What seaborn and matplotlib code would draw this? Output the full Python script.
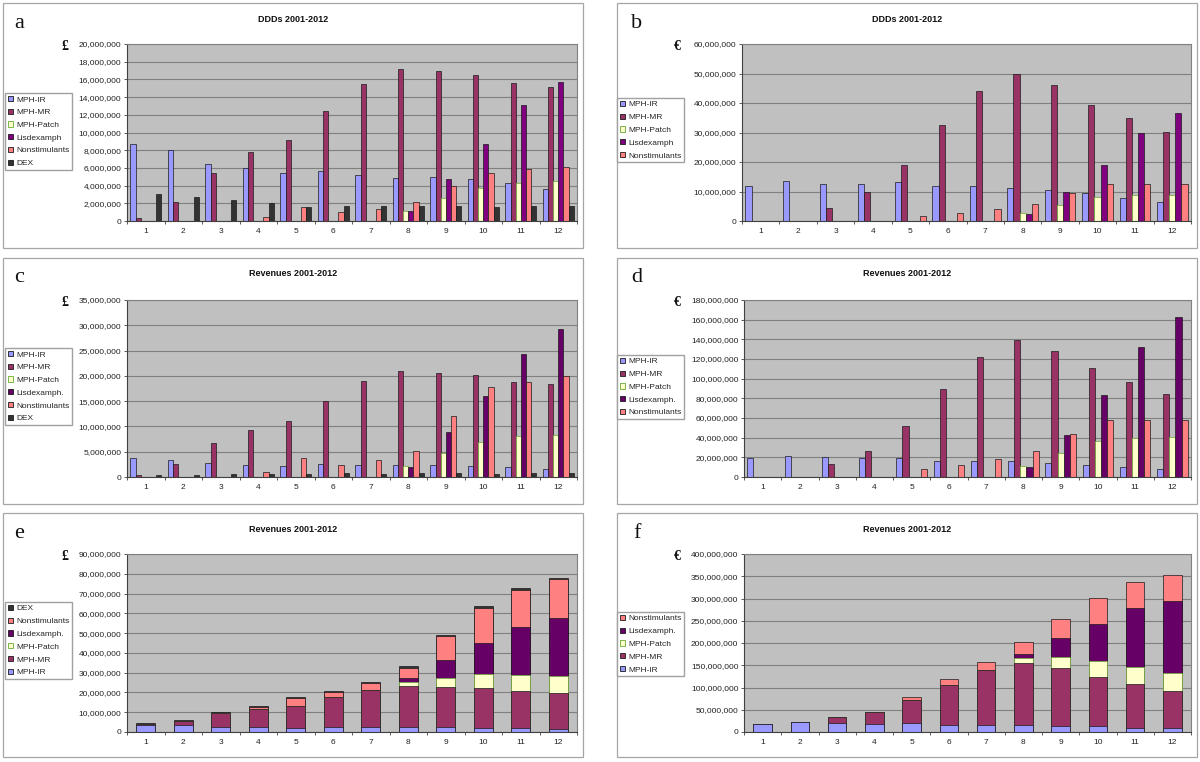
import numpy as np
import pandas as pd
import matplotlib
matplotlib.use('Agg')
import matplotlib.pyplot as plt
import seaborn as sns
from matplotlib.patches import Rectangle, Patch
from matplotlib.ticker import FuncFormatter, MultipleLocator, FixedLocator

sns.set_theme(style='white')
plt.rcParams['font.family'] = ['Liberation Sans', 'DejaVu Sans']

years = list(range(1, 13))

# values in millions
# a - DDDs, UK
ddd_uk_ir = [8.7, 8.0, 6.45, 6.0, 5.45, 5.6, 5.15, 4.9, 4.95, 4.8, 4.3, 3.6]
ddd_uk_mr = [0.3, 2.1, 5.4, 7.75, 9.15, 12.4, 15.5, 17.2, 16.9, 16.55, 15.6, 15.1]
ddd_uk_patch = [0, 0, 0, 0, 0, 0, 0, 1.15, 2.55, 3.75, 4.35, 4.5]
ddd_uk_lis = [0, 0, 0, 0, 0, 0, 0, 1.1, 4.7, 8.65, 13.1, 15.75]
ddd_uk_non = [0, 0, 0, 0.4, 1.6, 1.0, 1.4, 2.15, 3.9, 5.4, 5.85, 6.15]
ddd_uk_dex = [3.0, 2.7, 2.4, 2.0, 1.6, 1.65, 1.65, 1.75, 1.7, 1.6, 1.75, 1.75]

# b - DDDs, euro
ddd_eu_ir = [11.9, 13.7, 12.5, 12.5, 13.1, 11.7, 11.9, 11.3, 10.6, 9.4, 7.8, 6.3]
ddd_eu_mr = [0, 0, 4.3, 9.7, 18.9, 32.5, 44.0, 49.9, 46.0, 39.3, 35.0, 30.1]
ddd_eu_patch = [0, 0, 0, 0, 0, 0, 0, 2.6, 5.3, 8.3, 8.8, 8.9]
ddd_eu_lis = [0, 0, 0, 0, 0, 0, 0, 2.5, 9.7, 18.9, 29.8, 36.7]
ddd_eu_non = [0, 0, 0, 0, 1.7, 2.6, 4.0, 5.7, 9.5, 12.6, 12.6, 12.6]

# c / e - revenues, UK
rev_uk_ir = [3.7, 3.3, 2.7, 2.4, 2.2, 2.6, 2.4, 2.3, 2.3, 2.2, 1.9, 1.5]
rev_uk_mr = [0.45, 2.5, 6.7, 9.2, 11.0, 15.1, 18.9, 20.9, 20.5, 20.1, 18.8, 18.4]
rev_uk_patch = [0, 0, 0, 0, 0, 0, 0, 2.2, 4.7, 6.9, 8.1, 8.3]
rev_uk_lis = [0, 0, 0, 0, 0, 0, 0, 2.0, 8.8, 16.0, 24.3, 29.2]
rev_uk_non = [0, 0, 0, 1.0, 3.8, 2.3, 3.3, 5.1, 12.0, 17.7, 18.8, 19.9]
rev_uk_dex = [0.4, 0.45, 0.5, 0.6, 0.6, 0.7, 0.6, 0.7, 0.7, 0.6, 0.7, 0.7]

# d / f - revenues, euro
rev_eu_ir = [19.0, 21.7, 20.0, 19.0, 19.7, 16.6, 16.6, 16.0, 14.6, 12.6, 9.9, 8.2]
rev_eu_mr = [0, 0, 13.6, 26.8, 51.6, 90.0, 122.0, 139.0, 128.4, 110.4, 97.1, 83.9]
rev_eu_patch = [0, 0, 0, 0, 0, 0, 0, 10.9, 24.5, 36.3, 39.4, 40.8]
rev_eu_lis = [0, 0, 0, 0, 0, 0, 0, 10.2, 42.8, 83.6, 131.8, 162.4]
rev_eu_non = [0, 0, 0, 0, 8.2, 12.6, 18.3, 26.8, 44.2, 58.4, 58.4, 58.4]

C_IR = '#9999FF'
C_MR = '#993366'
C_PATCH = '#FFFFCC'
C_LIS = '#800080'
C_LIS2 = '#660066'
C_NON = '#FF8080'
C_DEX = '#333333'
PATCH_EDGE = '#66AA33'

W, H = 1200, 762


def fig_rect(l, t, r, b):
    return [l / W, 1 - b / H, (r - l) / W, (b - t) / H]


def edge_for(name):
    return PATCH_EDGE if name == 'MPH-Patch' else '#1a1a1a'


def style_axes(ax, ymax, step):
    ax.set_facecolor('#C0C0C0')
    ax.set_xlim(-0.5, 11.5)
    ax.set_ylim(0, ymax)
    ax.yaxis.set_major_locator(MultipleLocator(step))
    ax.yaxis.set_major_formatter(FuncFormatter(lambda v, p: f'{v * 1e6:,.0f}'))
    ax.grid(axis='y', color='#808080', linewidth=0.8)
    ax.grid(axis='x', visible=False)
    ax.set_axisbelow(True)
    ax.set_xlabel('')
    ax.set_ylabel('')
    ax.set_xticks(range(12))
    ax.set_xticklabels([str(y) for y in years])
    ax.xaxis.set_minor_locator(FixedLocator(np.arange(-0.5, 12, 1)))
    ax.tick_params(axis='x', which='major', length=0, labelsize=6, pad=5, labelcolor='#222222')
    ax.tick_params(axis='x', which='minor', bottom=True, length=2.5, width=0.6, color='#404040')
    ax.tick_params(axis='y', left=True, length=2.5, width=0.6, labelsize=6, pad=1.5,
                   color='#404040', labelcolor='#222222')
    for s in ['top', 'right']:
        ax.spines[s].set_color('#808080')
        ax.spines[s].set_linewidth(0.8)
    for s in ['left', 'bottom']:
        ax.spines[s].set_color('#404040')
        ax.spines[s].set_linewidth(0.8)


def grouped_panel(ax, series, colors, ymax, step):
    names = list(series)
    df = pd.DataFrame(series, index=years)
    long = df.reset_index(names='year').melt(id_vars='year', var_name='drug', value_name='value')
    sns.barplot(data=long, x='year', y='value', hue='drug', hue_order=names,
                palette=dict(zip(names, colors)), width=0.82, saturation=1,
                edgecolor='#1a1a1a', linewidth=0.5, errorbar=None, legend=False, ax=ax)
    for cont, name in zip(ax.containers, names):
        for bar in cont:
            bar.set_edgecolor(edge_for(name))
            if bar.get_height() == 0:
                bar.set_visible(False)
    style_axes(ax, ymax, step)


def stacked_panel(ax, series, colors, ymax, step):
    names = list(series)
    cum = pd.DataFrame(series, index=years).cumsum(axis=1)
    # draw the running totals from the top layer down so each lower layer covers the one above
    for name, col in reversed(list(zip(names, colors))):
        sns.barplot(x=years, y=cum[name].values, color=col, width=0.5, saturation=1,
                    edgecolor=edge_for(name), linewidth=0.5, errorbar=None, ax=ax)
    style_axes(ax, ymax, step)


def add_legend(fig, names, colors, left, top, reverse=False):
    handles = [Patch(facecolor=c, edgecolor=edge_for(n), linewidth=0.6, label=n)
               for n, c in zip(names, colors)]
    if reverse:
        handles = handles[::-1]
    fig.legend(handles=handles, loc='upper left', bbox_to_anchor=(left / W, 1 - top / H),
               frameon=True, fancybox=False, edgecolor='#A0A0A0', framealpha=1,
               fontsize=6, handlelength=0.6, handleheight=0.6, handletextpad=0.4,
               labelspacing=0.62, borderpad=0.35, borderaxespad=0)


def decorate(fig, frame, letter, title, currency, plot_top, right_side):
    l, t, r, b = frame
    fig.add_artist(Rectangle((l / W, 1 - b / H), (r - l) / W, (b - t) / H,
                             transform=fig.transFigure, fill=False,
                             edgecolor='#A6A6A6', linewidth=0.9))
    fig.text((l + r) / 2 / W, 1 - (t + 16) / H, title, ha='center', va='center',
             fontsize=6.5, fontweight='bold', color='#111111')
    lx = l + (20 if right_side else 16)
    fig.text(lx / W, 1 - (t + 20) / H, letter, ha='center', va='center',
             fontsize=16, family=['Liberation Serif', 'DejaVu Serif'], color='#111111')
    cx = 677 if right_side else 65
    fig.text(cx / W, 1 - (plot_top + 2) / H, currency, ha='center', va='center',
             fontsize=10, fontweight='bold', family=['Liberation Serif', 'DejaVu Serif'],
             color='#111111')


fig = plt.figure(figsize=(12, 7.62), dpi=100)

names6 = ['MPH-IR', 'MPH-MR', 'MPH-Patch', 'Lisdexamph', 'Nonstimulants', 'DEX']
names6b = ['MPH-IR', 'MPH-MR', 'MPH-Patch', 'Lisdexamph.', 'Nonstimulants', 'DEX']
cols6 = [C_IR, C_MR, C_PATCH, C_LIS, C_NON, C_DEX]
cols6b = [C_IR, C_MR, C_PATCH, C_LIS2, C_NON, C_DEX]

# a
ax = fig.add_axes(fig_rect(127, 44, 577, 221))
grouped_panel(ax, dict(zip(names6, [ddd_uk_ir, ddd_uk_mr, ddd_uk_patch, ddd_uk_lis,
                                    ddd_uk_non, ddd_uk_dex])), cols6, 20, 2)
decorate(fig, (3, 3, 583, 248), 'a', 'DDDs 2001-2012', '£', 44, False)
add_legend(fig, names6, cols6, 5, 93)

# b
ax = fig.add_axes(fig_rect(742, 44, 1191, 221))
grouped_panel(ax, dict(zip(names6[:5], [ddd_eu_ir, ddd_eu_mr, ddd_eu_patch, ddd_eu_lis,
                                        ddd_eu_non])), cols6[:5], 60, 10)
decorate(fig, (617, 3, 1197, 248), 'b', 'DDDs 2001-2012', '€', 44, True)
add_legend(fig, names6[:5], cols6[:5], 617, 98)

# c
ax = fig.add_axes(fig_rect(127, 300, 577, 477))
grouped_panel(ax, dict(zip(names6b, [rev_uk_ir, rev_uk_mr, rev_uk_patch, rev_uk_lis,
                                     rev_uk_non, rev_uk_dex])), cols6b, 35, 5)
decorate(fig, (3, 258, 583, 504), 'c', 'Revenues 2001-2012', '£', 300, False)
add_legend(fig, names6b, cols6b, 5, 348)

# d
ax = fig.add_axes(fig_rect(744, 300, 1191, 477))
grouped_panel(ax, dict(zip(names6b[:5], [rev_eu_ir, rev_eu_mr, rev_eu_patch, rev_eu_lis,
                                         rev_eu_non])), cols6b[:5], 180, 20)
decorate(fig, (617, 258, 1197, 504), 'd', 'Revenues 2001-2012', '€', 300, True)
add_legend(fig, names6b[:5], cols6b[:5], 617, 355)

# e
ax = fig.add_axes(fig_rect(127, 554, 577, 732))
stacked_panel(ax, dict(zip(names6b, [rev_uk_ir, rev_uk_mr, rev_uk_patch, rev_uk_lis,
                                     rev_uk_non, rev_uk_dex])), cols6b, 90, 10)
decorate(fig, (3, 513, 583, 757), 'e', 'Revenues 2001-2012', '£', 554, False)
add_legend(fig, names6b, cols6b, 5, 602, reverse=True)

# f
ax = fig.add_axes(fig_rect(744, 554, 1191, 732))
stacked_panel(ax, dict(zip(names6b[:5], [rev_eu_ir, rev_eu_mr, rev_eu_patch, rev_eu_lis,
                                         rev_eu_non])), cols6b[:5], 400, 50)
decorate(fig, (617, 513, 1197, 757), 'f', 'Revenues 2001-2012', '€', 554, True)
add_legend(fig, names6b[:5], cols6b[:5], 617, 612, reverse=True)

plt.savefig('out.png', dpi=100)
